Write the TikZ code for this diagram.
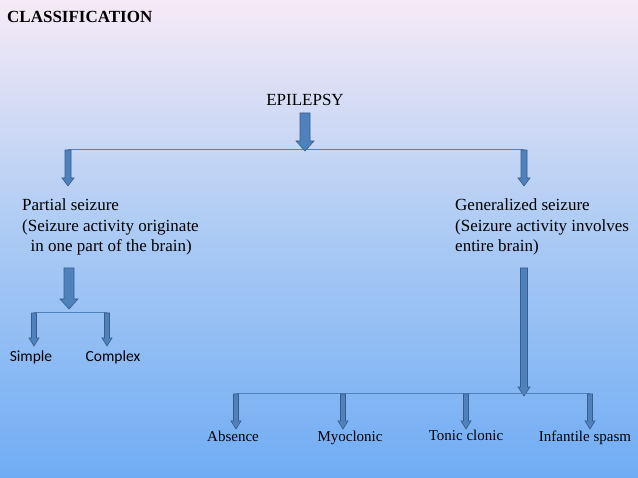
\documentclass[tikz,border=0pt]{standalone}
\usepackage{fontspec}
\setmainfont{Liberation Serif}
\newfontfamily\calib{Carlito}
\definecolor{topc}{RGB}{246,234,246}
\definecolor{midc}{RGB}{170,202,244}
\definecolor{botc}{RGB}{112,172,244}
\definecolor{arrfill}{RGB}{79,129,189}
\definecolor{arrdraw}{RGB}{56,93,138}
\definecolor{linec}{RGB}{79,129,189}
\newcommand{\blkarrow}[6]{% x, ytop, ybottom, half shaft, half head, head length
  \fill[arrfill,draw=arrdraw,line width=0.6pt]
   ({#1-#4},#2) -- ({#1+#4},#2) -- ({#1+#4},{#3-#6}) -- ({#1+#5},{#3-#6}) -- (#1,#3)
   -- ({#1-#5},{#3-#6}) -- ({#1-#4},{#3-#6}) -- cycle;}
\begin{document}
\begin{tikzpicture}[x=1pt,y=-1pt,
  txt/.style={font=\fontsize{17}{20.5}\selectfont,inner sep=0pt},
  sans/.style={font=\calib\fontsize{15.5}{18}\selectfont,inner sep=0pt},
  conn/.style={draw=linec,line width=1pt}]
\shade[top color=topc,bottom color=botc,middle color=midc] (0,0) rectangle (638,478);
\useasboundingbox (0,0) rectangle (638,478);
\node[txt,font=\bfseries\fontsize{17}{20}\selectfont,anchor=base west] (cls) at (7,23) {CLASSIFICATION};
\node[txt,anchor=base] (epi) at (305,106) {EPILEPSY};
\draw[conn] (68,150) -- (524,150);
\blkarrow{305}{113}{151}{5}{9}{10}
\blkarrow{68}{150}{186}{3}{6}{8}
\blkarrow{524}{150}{186}{3}{6}{8}
\node[txt,anchor=north west,align=left] (part) at (22,199) {Partial seizure\\(Seizure activity originate\\\ \ in one part of the brain)};
\node[txt,anchor=north west,align=left] (gen) at (455,199) {Generalized seizure\\(Seizure activity involves\\entire brain)};
\blkarrow{69}{268}{309}{5}{9}{10}
\draw[conn] (34,313) -- (107,313);
\blkarrow{34}{313}{346}{2.5}{5}{8}
\blkarrow{107}{313}{346}{2.5}{5}{8}
\node[sans,anchor=base] (simp) at (31,362) {Simple};
\node[sans,anchor=base] (comp) at (113,362) {Complex};
\blkarrow{524}{268}{396}{3.5}{6}{9}
\draw[conn] (236,394) -- (590,394);
\blkarrow{236}{394}{429}{2.5}{5}{8}
\blkarrow{343}{394}{429}{2.5}{5}{8}
\blkarrow{466}{394}{429}{2.5}{5}{8}
\blkarrow{590}{394}{429}{2.5}{5}{8}
\node[txt,font=\fontsize{15}{18}\selectfont,anchor=base] (abs) at (233,442) {Absence};
\node[txt,font=\fontsize{15}{18}\selectfont,anchor=base] (myo) at (350,442) {Myoclonic};
\node[txt,font=\fontsize{15}{18}\selectfont,anchor=base] (ton) at (466,441) {Tonic clonic};
\node[txt,font=\fontsize{15}{18}\selectfont,anchor=base] (inf) at (585,442) {Infantile spasm};
\end{tikzpicture}
\end{document}
